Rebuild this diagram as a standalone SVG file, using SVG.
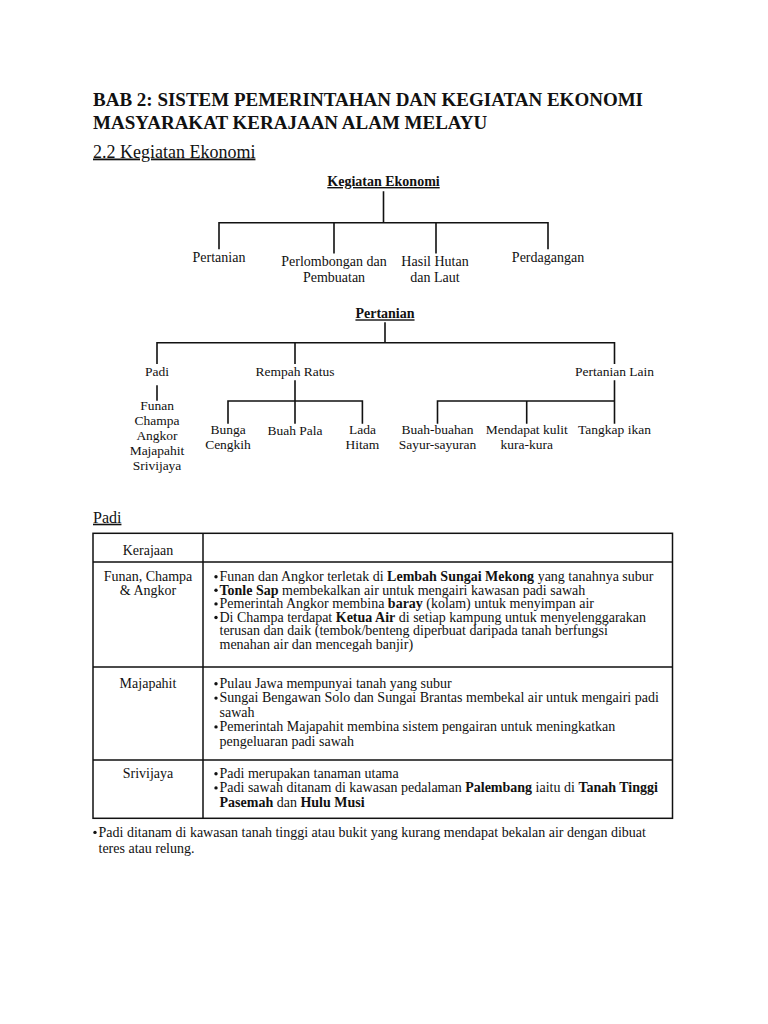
<svg xmlns="http://www.w3.org/2000/svg" width="768" height="1024" viewBox="0 0 768 1024">
<style>
text{font-family:"Liberation Serif","Times New Roman",serif;fill:#111}
.title{font-size:19px;font-weight:bold}
.h2{font-size:18px;text-decoration:underline}
.h3{font-size:16px;text-decoration:underline}
.root{font-size:14px;font-weight:bold;text-decoration:underline;text-anchor:middle}
.n1{font-size:14px;text-anchor:middle}
.n2{font-size:13.5px;text-anchor:middle}
.t{font-size:14px}
.tc{font-size:14px;text-anchor:middle}
.b{font-weight:bold}
.conn{stroke:#111;stroke-width:1.6;fill:none;stroke-linecap:square}
.grid{stroke:#111;stroke-width:1.5;fill:none}
.dot{fill:#111}
</style>
<rect width="768" height="1024" fill="#fff"/>

<g id="heading">
<text class="title" x="93" y="106">BAB 2: SISTEM PEMERINTAHAN DAN KEGIATAN EKONOMI</text>
<text class="title" x="93" y="129">MASYARAKAT KERAJAAN ALAM MELAYU</text>
<text class="h2" x="93" y="157.5">2.2 Kegiatan Ekonomi</text>
</g>

<g id="connectors">
<path class="conn" d="M383.5 192V222.7M219 222.7H548M219 222.7V248.5M334 222.7V252.7M436 222.7V252.7M548 222.7V248.5"/>
<path class="conn" d="M385 323V342.7M157 342.7H614.5M157 342.7V363.3M295 342.7V363.3M614.5 342.7V363.3"/>
<path class="conn" d="M157 386V400"/>
<path class="conn" d="M295 381V423M228 401H362.4M228 401V423M362.4 401V423"/>
<path class="conn" d="M614.5 381V423M437.5 401H614.5M437.5 401V423M526.7 401V423"/>
</g>

<g id="kegiatan-ekonomi"><text class="root" x="383.5" y="186">Kegiatan Ekonomi</text></g>
<g id="pertanian"><text class="n1" x="219" y="261.7">Pertanian</text></g>
<g id="perlombongan"><text class="n1" x="334" y="266">Perlombongan dan</text><text class="n1" x="334" y="281.7">Pembuatan</text></g>
<g id="hasil-hutan"><text class="n1" x="435" y="266">Hasil Hutan</text><text class="n1" x="435" y="281.7">dan Laut</text></g>
<g id="perdagangan"><text class="n1" x="548" y="261.7">Perdagangan</text></g>

<g id="pertanian-root"><text class="root" x="385" y="318.3">Pertanian</text></g>
<g id="padi"><text class="n2" x="157" y="376">Padi</text></g>
<g id="padi-list">
<text class="n2" x="157" y="410">Funan</text>
<text class="n2" x="157" y="424.5">Champa</text>
<text class="n2" x="157" y="439.5">Angkor</text>
<text class="n2" x="157" y="455">Majapahit</text>
<text class="n2" x="157" y="470">Srivijaya</text>
</g>
<g id="rempah-ratus"><text class="n2" x="295" y="376">Rempah Ratus</text></g>
<g id="pertanian-lain"><text class="n2" x="614.5" y="376">Pertanian Lain</text></g>
<g id="bunga-cengkih"><text class="n2" x="228" y="434">Bunga</text><text class="n2" x="228" y="448.5">Cengkih</text></g>
<g id="buah-pala"><text class="n2" x="295" y="435">Buah Pala</text></g>
<g id="lada-hitam"><text class="n2" x="362.4" y="434">Lada</text><text class="n2" x="362.4" y="448.5">Hitam</text></g>
<g id="buah-buahan"><text class="n2" x="437.5" y="434">Buah-buahan</text><text class="n2" x="437.5" y="448.5">Sayur-sayuran</text></g>
<g id="kulit-kura"><text class="n2" x="526.7" y="434">Mendapat kulit</text><text class="n2" x="526.7" y="448.5">kura-kura</text></g>
<g id="tangkap-ikan"><text class="n2" x="614.5" y="434">Tangkap ikan</text></g>

<g id="table">
<text class="h3" x="93" y="522.7">Padi</text>
<rect class="grid" x="93" y="533.3" width="579.5" height="285"/>
<path class="grid" d="M203 533.3V818.3M93 562H672.5M93 667H672.5M93 760H672.5"/>
<text class="tc" x="148" y="555">Kerajaan</text>

<text class="tc" x="148" y="581">Funan, Champa</text>
<text class="tc" x="148" y="594.6">&amp; Angkor</text>
<circle class="dot" cx="216" cy="576.7" r="1.7"/>
<circle class="dot" cx="216" cy="590.3" r="1.7"/>
<circle class="dot" cx="216" cy="603.9" r="1.7"/>
<circle class="dot" cx="216" cy="617.5" r="1.7"/>
<text class="t" x="219.5" y="581">Funan dan Angkor terletak di <tspan class="b">Lembah Sungai Mekong</tspan> yang tanahnya subur</text>
<text class="t" x="219.5" y="594.6"><tspan class="b">Tonle Sap</tspan> membekalkan air untuk mengairi kawasan padi sawah</text>
<text class="t" x="219.5" y="608.2">Pemerintah Angkor membina <tspan class="b">baray</tspan> (kolam) untuk menyimpan air</text>
<text class="t" x="219.5" y="621.8">Di Champa terdapat <tspan class="b">Ketua Air</tspan> di setiap kampung untuk menyelenggarakan</text>
<text class="t" x="219.5" y="635.4">terusan dan daik (tembok/benteng diperbuat daripada tanah berfungsi</text>
<text class="t" x="219.5" y="649">menahan air dan mencegah banjir)</text>

<text class="tc" x="148" y="688">Majapahit</text>
<circle class="dot" cx="216" cy="683.7" r="1.7"/>
<circle class="dot" cx="216" cy="698.1" r="1.7"/>
<circle class="dot" cx="216" cy="726.9" r="1.7"/>
<text class="t" x="219.5" y="688">Pulau Jawa mempunyai tanah yang subur</text>
<text class="t" x="219.5" y="702.4">Sungai Bengawan Solo dan Sungai Brantas membekal air untuk mengairi padi</text>
<text class="t" x="219.5" y="716.8">sawah</text>
<text class="t" x="219.5" y="731.2">Pemerintah Majapahit membina sistem pengairan untuk meningkatkan</text>
<text class="t" x="219.5" y="745.6">pengeluaran padi sawah</text>

<text class="tc" x="148" y="778">Srivijaya</text>
<circle class="dot" cx="216" cy="773.7" r="1.7"/>
<circle class="dot" cx="216" cy="787.9" r="1.7"/>
<text class="t" x="219.5" y="778">Padi merupakan tanaman utama</text>
<text class="t" x="219.5" y="792.2">Padi sawah ditanam di kawasan pedalaman <tspan class="b">Palembang</tspan> iaitu di <tspan class="b">Tanah Tinggi</tspan></text>
<text class="t" x="219.5" y="806.5"><tspan class="b">Pasemah</tspan> dan <tspan class="b">Hulu Musi</tspan></text>
</g>

<g id="note">
<circle class="dot" cx="95" cy="832.4" r="1.7"/>
<text class="t" x="98.5" y="836.7">Padi ditanam di kawasan tanah tinggi atau bukit yang kurang mendapat bekalan air dengan dibuat</text>
<text class="t" x="98.5" y="853.3">teres atau relung.</text>
</g>
</svg>
